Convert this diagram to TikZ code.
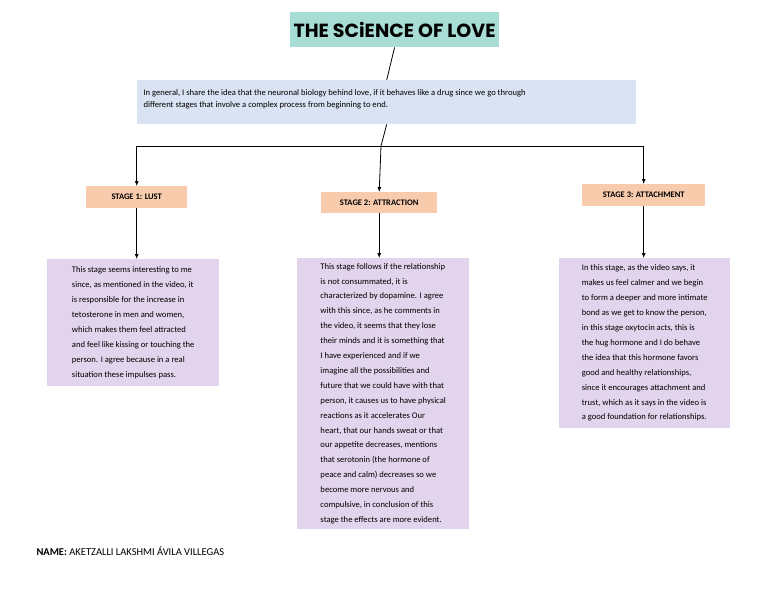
\documentclass[tikz,border=0pt]{standalone}
\usepackage{fontspec}
\setmainfont{Carlito}
\newfontfamily\titlefont{Poppins}
\usetikzlibrary{arrows.meta,positioning}
\definecolor{titleteal}{HTML}{A8DDD5}
\definecolor{introblue}{HTML}{DAE3F3}
\definecolor{stagepeach}{HTML}{F8CBAD}
\definecolor{notelilac}{HTML}{E2D4EC}
\tikzset{
  stage/.style={fill=stagepeach, font=\fontsize{8.5}{10}\selectfont\bfseries, inner sep=0pt, anchor=north west},
  note/.style={fill=notelilac, font=\fontsize{8.6}{14.9}\selectfont, align=left, anchor=north west, inner xsep=7pt, inner ysep=5pt},
  link/.style={draw=black, line width=0.8pt},
  arrow/.style={link, -{Latex[length=5pt,width=4pt]}}
}
\begin{document}
\begin{tikzpicture}[x=1pt,y=-1pt]
  \useasboundingbox (0,0) rectangle (768,594);

  \node [fill=titleteal, minimum width=186pt, minimum height=35pt, anchor=north west, font=\titlefont\fontsize{19}{20}\selectfont\bfseries] (title) at (290,12) {THE SCiENCE OF LOVE};

  \node [fill=introblue, minimum width=499pt, minimum height=44pt, anchor=north west] (intro) at (137,80) {};
  \node [anchor=north west, align=left, font=\fontsize{8.6}{12}\selectfont] (introtext) at (140,86) {In general, I share the idea that the neuronal biology behind love, if it behaves like a drug since we go through\\different stages that involve a complex process from beginning to end.};

  \node [stage, minimum width=101pt, minimum height=22pt] (lust) at (86,186) {STAGE 1: LUST};
  \node [stage, minimum width=116pt, minimum height=21pt] (attr) at (321,192) {STAGE 2: ATTRACTION};
  \node [stage, minimum width=123pt, minimum height=22pt] (attach) at (582,184) {STAGE 3: ATTACHMENT};

  \node [note, minimum width=172pt, minimum height=127pt] (lustnote) at (47,259) {This stage seems interesting to me\\since, as mentioned in the video, it\\is responsible for the increase in\\tetosterone in men and women,\\which makes them feel attracted\\and feel like kissing or touching the\\person. I agree because in a real\\situation these impulses pass.};
  \node [note, minimum width=172pt, minimum height=268pt] (attrnote) at (297,258) {This stage follows if the relationship\\is not consummated, it is\\characterized by dopamine. I agree\\with this since, as he comments in\\the video, it seems that they lose\\their minds and it is something that\\I have experienced and if we\\imagine all the possibilities and\\future that we could have with that\\person, it causes us to have physical\\reactions as it accelerates Our\\heart, that our hands sweat or that\\our appetite decreases, mentions\\that serotonin (the hormone of\\peace and calm) decreases so we\\become more nervous and\\compulsive, in conclusion of this\\stage the effects are more evident.};
  \node [note, minimum width=171pt, minimum height=170pt] (attachnote) at (559,258) {In this stage, as the video says, it\\makes us feel calmer and we begin\\to form a deeper and more intimate\\bond as we get to know the person,\\in this stage oxytocin acts, this is\\the hug hormone and I do behave\\the idea that this hormone favors\\good and healthy relationships,\\since it encourages attachment and\\trust, which as it says in the video is\\a good foundation for relationships.};

  \coordinate (mid) at (381,146);
  \coordinate (left) at (lust.north |- mid);
  \coordinate (right) at (attach.north |- mid);

  \draw [link] (title.south) -- (intro.north);
  \draw [link] (intro.south) -- (mid);
  \draw [link] (left) -- (right);
  \draw [arrow] (left) -- (lust.north);
  \draw [arrow] (mid) -- (attr.north);
  \draw [arrow] (right) -- (attach.north);
  \draw [arrow] (lust.south) -- (lust.south |- lustnote.north);
  \draw [arrow] (attr.south) -- (attr.south |- attrnote.north);
  \draw [arrow] (attach.south) -- (attach.south |- attachnote.north);

  \node [anchor=west, font=\fontsize{10.5}{12}\selectfont] (name) at (33,551) {\textbf{NAME:} AKETZALLI LAKSHMI ÁVILA VILLEGAS};
\end{tikzpicture}
\end{document}
